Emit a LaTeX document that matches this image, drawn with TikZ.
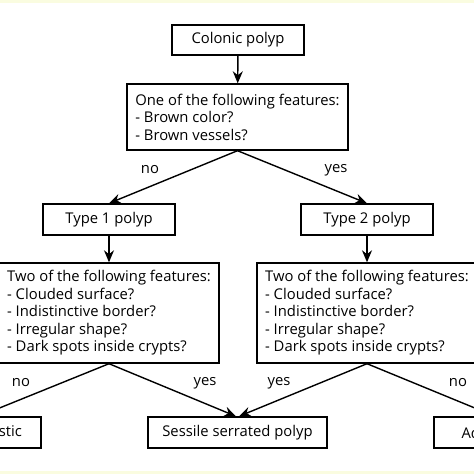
\documentclass[tikz,border=0pt]{standalone}
\usepackage{fontspec}
\setmainfont{Open Sans}
\usepackage{xcolor}
\usetikzlibrary{positioning, arrows.meta}
\definecolor{paleyellow}{HTML}{FAFCE0}

\tikzset{
  box/.style={draw, line width=1.4pt, inner sep=0pt, minimum height=31pt, font=\fontsize{14.8}{17}\selectfont},
  qbox/.style={draw, line width=1.4pt, inner xsep=0pt, inner ysep=0pt, align=left,
               font=\fontsize{14.8}{17.5}\selectfont},
  lbl/.style={font=\fontsize{14.8}{17}\selectfont},
  arr/.style={-{Stealth[length=12pt, width=10pt]}, line width=1.4pt}
}

\begin{document}
\begin{tikzpicture}[x=1pt, y=-1pt]
  \useasboundingbox (0,0) rectangle (474,474);
  \clip (0,0) rectangle (474,474);
  \fill[white] (0,0) rectangle (474,474);
  \fill[paleyellow] (0,0) rectangle (474,3);
  \fill[paleyellow] (0,471) rectangle (474,474);

  % top of the tree
  \node[box, minimum width=132pt, minimum height=30pt] (colonic) at (238,40) {Colonic polyp};
  \node[qbox, minimum width=221pt, minimum height=66pt] (first) at (237.5,117) {%
    One of the following features:\\
    - Brown color?\\
    - Brown vessels?};
  \node[box, minimum width=132pt] (type1) at (109,219.5) {Type 1 polyp};
  \node[box, minimum width=132pt] (type2) at (367,219.5) {Type 2 polyp};

  % second questions
  \node[qbox, minimum width=220pt, minimum height=100pt] (secondl) at (109,313) {%
    Two of the following features:\\
    - Clouded surface?\\
    - Indistinctive border?\\
    - Irregular shape?\\
    - Dark spots inside crypts?};
  \node[qbox, minimum width=220pt, minimum height=100pt] (secondr) at (367,313) {%
    Two of the following features:\\
    - Clouded surface?\\
    - Indistinctive border?\\
    - Irregular shape?\\
    - Dark spots inside crypts?};

  % outcomes
  \node[box, minimum width=124pt] (hyper) at (-21,432.5) {Hyperplastic};
  \node[box, minimum width=179pt] (sessile) at (237.5,432.5) {Sessile serrated polyp};
  \node[box, minimum width=122pt] (adenoma) at (495,432.5) {Adenoma};

  \draw[arr] (colonic) -- (first);
  \draw[arr] (first.south) -- (type1.north);
  \draw[arr] (first.south) -- (type2.north);
  \draw[arr] (type1) -- (secondl);
  \draw[arr] (type2) -- (secondr);
  \draw[arr] (secondl.south) -- (hyper.north);
  \draw[arr] (secondl.south) -- ([xshift=-1.5pt]sessile.north);
  \draw[arr] (secondr.south) -- ([xshift=1.5pt]sessile.north);
  \draw[arr] (secondr.south) -- (adenoma.north);

  \node[lbl] (no1) at (150,170) {no};
  \node[lbl] (yes1) at (336,170) {yes};
  \node[lbl] (no2) at (21,383) {no};
  \node[lbl] (yes2) at (205,383) {yes};
  \node[lbl] (yes3) at (279,383) {yes};
  \node[lbl] (no3) at (458,383) {no};
\end{tikzpicture}
\end{document}
